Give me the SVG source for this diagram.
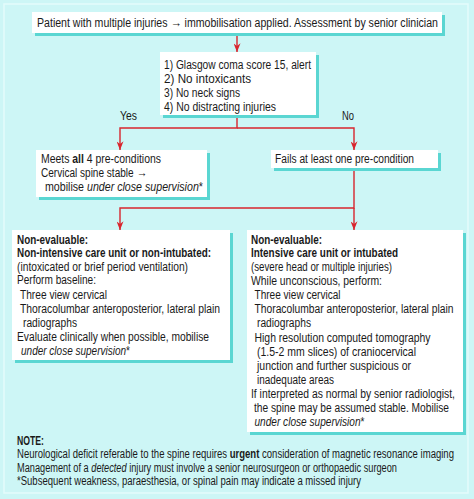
<svg xmlns="http://www.w3.org/2000/svg" width="474" height="499" viewBox="0 0 474 499">
<style>
text{font-family:"Liberation Sans",Arial,sans-serif;font-size:12.3px;fill:#1a1a1a}
.b{font-weight:bold}
.i{font-style:italic}
.ar{font-weight:bold;font-size:13px}
.box{fill:#ffffff}
.sh{fill:#5ad6d2}
.c{fill:none;stroke:#d8262e;stroke-width:1.4}
</style>
<defs>
<marker id="ah" viewBox="0 0 10 8" refX="10" refY="4" markerWidth="9" markerHeight="7" markerUnits="userSpaceOnUse" orient="auto">
<path d="M0,0 L10,4 L0,8 L3,4 Z" fill="#d8262e"/>
</marker>
</defs>
<rect x="0" y="0" width="474" height="499" fill="#cdf6f6"/>
<rect x="4" y="4" width="464" height="489" fill="none" stroke="#e4fbfb" stroke-width="1.5"/>

<g id="connectors">
<path class="c" d="M237,35 V52" marker-end="url(#ah)"/>
<path class="c" d="M237,117 V128 H120 V150" marker-end="url(#ah)"/>
<path class="c" d="M237,128 H354 V150" marker-end="url(#ah)"/>
<path class="c" d="M354,170 V208 H120 V230" marker-end="url(#ah)"/>
<path class="c" d="M354,208 V230" marker-end="url(#ah)"/>
</g>

<g id="start">
<rect class="sh" x="35" y="15" width="410" height="21"/>
<rect class="box" x="32" y="12" width="410" height="21"/>
<text x="37" y="27" textLength="401" lengthAdjust="spacingAndGlyphs">Patient with multiple injuries <tspan class="ar">→</tspan> immobilisation applied. Assessment by senior clinician</text>
</g>

<g id="criteria">
<rect class="sh" x="163" y="55" width="156" height="63"/>
<rect class="box" x="160" y="52" width="156" height="63"/>
<text x="164" y="69" textLength="147" lengthAdjust="spacingAndGlyphs">1) Glasgow coma score 15, alert</text>
<text x="164" y="83" textLength="87" lengthAdjust="spacingAndGlyphs">2) No intoxicants</text>
<text x="164" y="97" textLength="76" lengthAdjust="spacingAndGlyphs">3) No neck signs</text>
<text x="164" y="111" textLength="112" lengthAdjust="spacingAndGlyphs">4) No distracting injuries</text>
</g>

<g id="labels">
<text x="120" y="120" textLength="17" lengthAdjust="spacingAndGlyphs">Yes</text>
<text x="342" y="120" textLength="12" lengthAdjust="spacingAndGlyphs">No</text>
</g>

<g id="meets">
<rect class="sh" x="39" y="153" width="171" height="47"/>
<rect class="box" x="36" y="150" width="171" height="47"/>
<text x="41" y="163" textLength="120" lengthAdjust="spacingAndGlyphs">Meets <tspan class="b">all</tspan> 4 pre-conditions</text>
<text x="41" y="177" textLength="106" lengthAdjust="spacingAndGlyphs">Cervical spine stable <tspan class="ar">→</tspan></text>
<text x="45" y="191" textLength="158" lengthAdjust="spacingAndGlyphs">mobilise <tspan class="i">under close supervision</tspan>*</text>
</g>

<g id="fails">
<rect class="sh" x="274" y="153" width="167" height="18"/>
<rect class="box" x="271" y="150" width="167" height="18"/>
<text x="275" y="163" textLength="139" lengthAdjust="spacingAndGlyphs">Fails at least one pre-condition</text>
</g>

<g id="nonicu">
<rect class="sh" x="15" y="233" width="218" height="130"/>
<rect class="box" x="12" y="230" width="218" height="130"/>
<text class="b" x="17" y="244" textLength="71" lengthAdjust="spacingAndGlyphs">Non-evaluable:</text>
<text class="b" x="17" y="257" textLength="194" lengthAdjust="spacingAndGlyphs">Non-intensive care unit or non-intubated:</text>
<text x="17" y="271" textLength="171" lengthAdjust="spacingAndGlyphs">(intoxicated or brief period ventilation)</text>
<text x="17" y="284" textLength="79" lengthAdjust="spacingAndGlyphs">Perform baseline:</text>
<text x="20" y="299" textLength="87" lengthAdjust="spacingAndGlyphs">Three view cervical</text>
<text x="20" y="313" textLength="200" lengthAdjust="spacingAndGlyphs">Thoracolumbar anteroposterior, lateral plain</text>
<text x="23" y="327" textLength="54" lengthAdjust="spacingAndGlyphs">radiographs</text>
<text x="17" y="341" textLength="192" lengthAdjust="spacingAndGlyphs">Evaluate clinically when possible, mobilise</text>
<text x="21" y="355" textLength="109" lengthAdjust="spacingAndGlyphs"><tspan class="i">under close supervision</tspan>*</text>
</g>

<g id="icu">
<rect class="sh" x="250" y="233" width="216" height="202"/>
<rect class="box" x="247" y="230" width="216" height="202"/>
<text class="b" x="251" y="244" textLength="71" lengthAdjust="spacingAndGlyphs">Non-evaluable:</text>
<text class="b" x="251" y="257" textLength="147" lengthAdjust="spacingAndGlyphs">Intensive care unit or intubated</text>
<text x="251" y="271" textLength="141" lengthAdjust="spacingAndGlyphs">(severe head or multiple injuries)</text>
<text x="251" y="285" textLength="131" lengthAdjust="spacingAndGlyphs">While unconscious, perform:</text>
<text x="254.5" y="299" textLength="86" lengthAdjust="spacingAndGlyphs">Three view cervical</text>
<text x="254.5" y="313" textLength="199" lengthAdjust="spacingAndGlyphs">Thoracolumbar anteroposterior, lateral plain</text>
<text x="257" y="327" textLength="54" lengthAdjust="spacingAndGlyphs">radiographs</text>
<text x="254.5" y="341.5" textLength="176" lengthAdjust="spacingAndGlyphs">High resolution computed tomography</text>
<text x="257" y="355.5" textLength="159" lengthAdjust="spacingAndGlyphs">(1.5-2 mm slices) of craniocervical</text>
<text x="257" y="370" textLength="154" lengthAdjust="spacingAndGlyphs">junction and further suspicious or</text>
<text x="257" y="383.5" textLength="77" lengthAdjust="spacingAndGlyphs">inadequate areas</text>
<text x="251" y="398" textLength="204" lengthAdjust="spacingAndGlyphs">If interpreted as normal by senior radiologist,</text>
<text x="254" y="412" textLength="195" lengthAdjust="spacingAndGlyphs">the spine may be assumed stable. Mobilise</text>
<text x="254.5" y="426" textLength="110" lengthAdjust="spacingAndGlyphs"><tspan class="i">under close supervision</tspan>*</text>
</g>

<g id="note">
<text class="b" x="17" y="445" textLength="27" lengthAdjust="spacingAndGlyphs">NOTE:</text>
<text x="17" y="458" textLength="437" lengthAdjust="spacingAndGlyphs">Neurological deficit referable to the spine requires <tspan class="b">urgent</tspan> consideration of magnetic resonance imaging</text>
<text x="17" y="471.5" textLength="380" lengthAdjust="spacingAndGlyphs">Management of a <tspan class="i">detected</tspan> injury must involve a senior neurosurgeon or orthopaedic surgeon</text>
<text x="17" y="485" textLength="344" lengthAdjust="spacingAndGlyphs">*Subsequent weakness, paraesthesia, or spinal pain may indicate a missed injury</text>
</g>
</svg>
